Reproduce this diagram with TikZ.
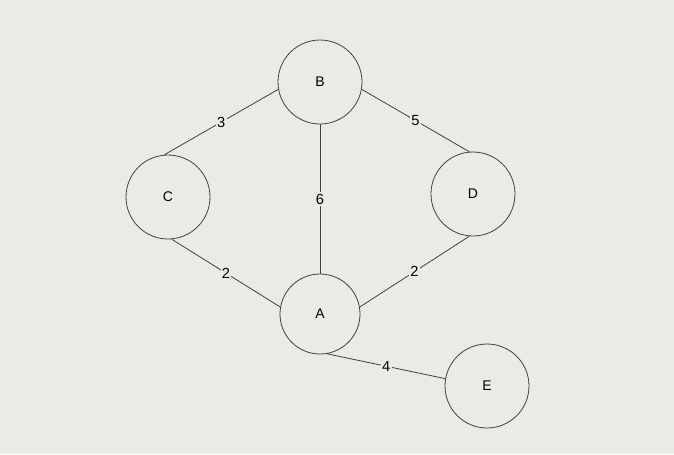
\documentclass[tikz,border=0pt]{standalone}
\usepackage{fontspec}
\setmainfont{Liberation Sans}
\begin{document}
\begin{tikzpicture}[x=0.75pt,y=-0.75pt,
  vert/.style={circle,draw=black!75,line width=0.6pt,minimum size=63pt,inner sep=0pt,font=\fontsize{10.5}{12}\selectfont},
  edge/.style={draw=black!75,line width=0.6pt},
  wt/.style={fill=paper,inner sep=1pt,font=\fontsize{11}{12}\selectfont}]
\definecolor{paper}{RGB}{234,234,231}
\fill[paper] (0,0) rectangle (674,454);
\useasboundingbox (0,0) rectangle (674,454);
\node[vert] (B) at (320,82) {B};
\node[vert] (C) at (168,197) {C};
\node[vert] (D) at (473,194) {D};
\node[vert,minimum size=60pt] (A) at (320,314) {A};
\node[vert] (E) at (487,386) {E};
\draw[edge] (C.95) -- node[wt,pos=0.5] {3} (B.190);
\draw[edge] (B.-10) -- node[wt,pos=0.5] {5} (D.95);
\draw[edge] (B) -- node[wt] {6} (A);
\draw[edge] (C.-85) -- node[wt,pos=0.5] {2} (A.170);
\draw[edge] (D.-95) -- node[wt,pos=0.5] {2} (A.10);
\draw[edge] (A.-80) -- node[wt,pos=0.5] {4} (E.170);
\end{tikzpicture}
\end{document}
